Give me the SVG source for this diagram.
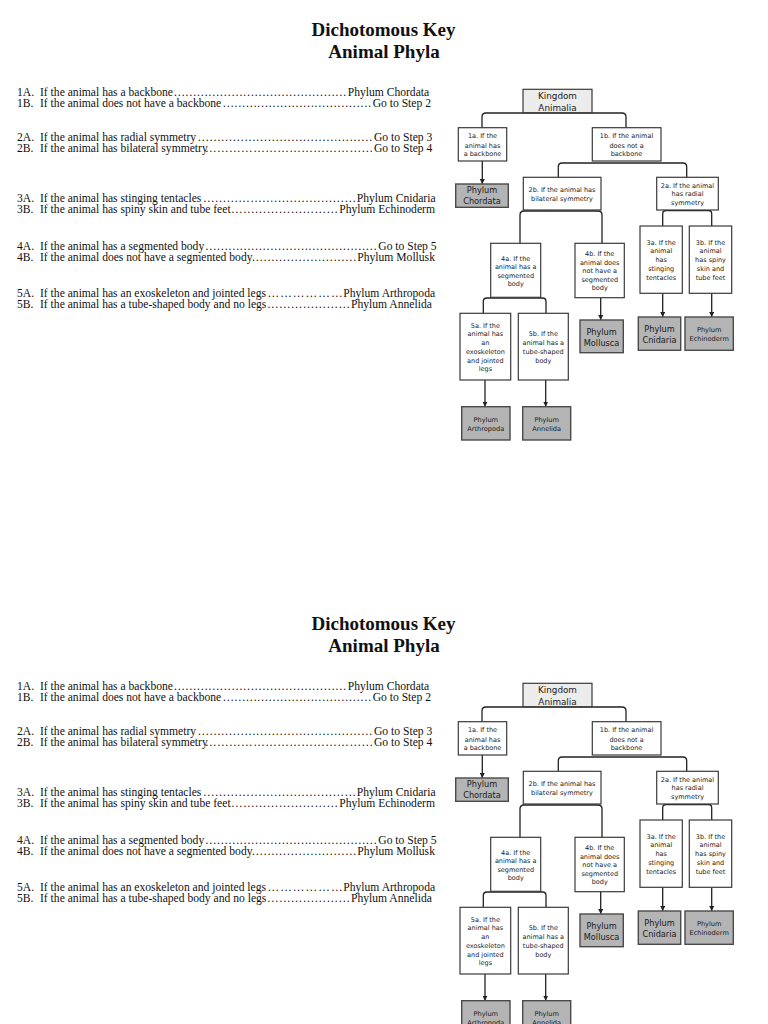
<svg xmlns="http://www.w3.org/2000/svg" width="768" height="1024" viewBox="0 0 768 1024">
<defs>
<marker id="ah" markerWidth="5" markerHeight="5" refX="5" refY="2.5" orient="auto" markerUnits="userSpaceOnUse"><path d="M0,0 L5,2.5 L0,5 z" fill="#222"/></marker>
</defs>
<style>
.title{font-family:"Liberation Serif","Times New Roman",serif;font-weight:bold;font-size:19px;fill:#111;text-anchor:middle}
.k{font-family:"Liberation Serif","Times New Roman",serif;font-size:11.6px;fill:#111}
.box{fill:#fff;stroke:#3a3a3a;stroke-width:1.2}
.kb{fill:#ececec;stroke:#3a3a3a;stroke-width:1.2}
.gb{fill:#b4b4b4;stroke:#4a4a4a;stroke-width:1.4}
.n{font-family:"DejaVu Sans","Noto Sans",sans-serif;font-size:6.5px;fill:#1a1a1a;text-anchor:middle}
.nk{font-size:8.8px}
.ng{font-size:8.2px}
.ns{font-size:6.6px}
.c{fill:none;stroke:#222;stroke-width:1.3}
.a{marker-end:url(#ah)}
</style>
<rect width="768" height="1024" fill="#fff"/>

<g id="copy1">
<g id="title1">
<text class="title" x="383.5" y="36">Dichotomous Key</text>
<text class="title" x="384" y="58">Animal Phyla</text>
</g>
<g id="key1">
<text class="k" y="95.5"><tspan x="17">1A.</tspan><tspan x="40">If the animal has a backbone</tspan><tspan x="173.5" textLength="173" lengthAdjust="spacing">&#8230;&#8230;&#8230;&#8230;&#8230;&#8230;&#8230;&#8230;&#8230;&#8230;&#8230;&#8230;&#8230;&#8230;&#8230;</tspan><tspan x="347.7">Phylum Chordata</tspan></text>
<text class="k" y="106.5"><tspan x="17">1B.</tspan><tspan x="40">If the animal does not have a backbone</tspan><tspan x="222.5" textLength="149" lengthAdjust="spacing">&#8230;&#8230;&#8230;&#8230;&#8230;&#8230;&#8230;&#8230;&#8230;&#8230;&#8230;&#8230;&#8230;</tspan><tspan x="372.7">Go to Step 2</tspan></text>
<text class="k" y="140.7"><tspan x="17">2A.</tspan><tspan x="40">If the animal has radial symmetry</tspan><tspan x="197.5" textLength="175" lengthAdjust="spacing">&#8230;&#8230;&#8230;&#8230;&#8230;&#8230;&#8230;&#8230;&#8230;&#8230;&#8230;&#8230;&#8230;&#8230;&#8230;</tspan><tspan x="374">Go to Step 3</tspan></text>
<text class="k" y="151.7"><tspan x="17">2B.</tspan><tspan x="40">If the animal has bilateral symmetry</tspan><tspan x="205" textLength="168" lengthAdjust="spacing">&#8230;&#8230;&#8230;&#8230;&#8230;&#8230;&#8230;&#8230;&#8230;&#8230;&#8230;&#8230;&#8230;&#8230;</tspan><tspan x="374">Go to Step 4</tspan></text>
<text class="k" y="202.3"><tspan x="17">3A.</tspan><tspan x="40">If the animal has stinging tentacles</tspan><tspan x="203" textLength="153" lengthAdjust="spacing">&#8230;&#8230;&#8230;&#8230;&#8230;&#8230;&#8230;&#8230;&#8230;&#8230;&#8230;&#8230;&#8230;</tspan><tspan x="356.7">Phylum Cnidaria</tspan></text>
<text class="k" y="213.3"><tspan x="17">3B.</tspan><tspan x="40">If the animal has spiny skin and tube feet</tspan><tspan x="231" textLength="107" lengthAdjust="spacing">&#8230;&#8230;&#8230;&#8230;&#8230;&#8230;&#8230;&#8230;&#8230;</tspan><tspan x="339.3">Phylum Echinoderm</tspan></text>
<text class="k" y="249.8"><tspan x="17">4A.</tspan><tspan x="40">If the animal has a segmented body</tspan><tspan x="205" textLength="172" lengthAdjust="spacing">&#8230;&#8230;&#8230;&#8230;&#8230;&#8230;&#8230;&#8230;&#8230;&#8230;&#8230;&#8230;&#8230;&#8230;&#8230;</tspan><tspan x="378.3">Go to Step 5</tspan></text>
<text class="k" y="260.8"><tspan x="17">4B.</tspan><tspan x="40">If the animal does not have a segmented body</tspan><tspan x="251.5" textLength="105" lengthAdjust="spacing">&#8230;&#8230;&#8230;&#8230;&#8230;&#8230;&#8230;&#8230;&#8230;</tspan><tspan x="357.3">Phylum Mollusk</tspan></text>
<text class="k" y="296.5"><tspan x="17">5A.</tspan><tspan x="40">If the animal has an exoskeleton and jointed legs</tspan><tspan x="267.5" textLength="75" lengthAdjust="spacing">&#8230;&#8230;&#8230;&#8230;&#8230;&#8230;</tspan><tspan x="343.3">Phylum Arthropoda</tspan></text>
<text class="k" y="307.5"><tspan x="17">5B.</tspan><tspan x="40">If the animal has a tube-shaped body and no legs</tspan><tspan x="267" textLength="83" lengthAdjust="spacing">&#8230;&#8230;&#8230;&#8230;&#8230;&#8230;&#8230;</tspan><tspan x="351">Phylum Annelida</tspan></text>
</g>
<g id="connectors1">
<path class="c" d="M482,128 V117 Q482,113 486,113 H622 Q626,113 626,117 V128"/>
<path class="c a" d="M482.3,161 V184"/>
<path class="c" d="M558.3,177.3 V167 Q558.3,163 562,163 H683 Q686.7,163 686.7,167 V177.3"/>
<path class="c" d="M520,243.3 V215 Q520,211 524,211 H598 Q602,211 602,215 V243.3"/>
<path class="c" d="M662.7,226 V214 Q662.7,210.5 666,210.5 H708.5 Q711.7,210.5 711.7,214 V226"/>
<path class="c" d="M483.3,313.3 V301.5 Q483.3,298 487,298 H542.5 Q546,298 546,301.5 V313.3"/>
<path class="c a" d="M600.7,297.7 V320"/>
<path class="c a" d="M662.7,293.3 V317"/>
<path class="c a" d="M711.7,293.3 V317"/>
<path class="c a" d="M485,380 V406.7"/>
<path class="c a" d="M545.7,380 V406.7"/>
</g>
<g id="kingdom1"><rect class="kb" x="523" y="89.3" width="69" height="23.4"/><text class="n nk"><tspan x="557.5" y="98.9">Kingdom</tspan><tspan x="557.5" y="110.6">Animalia</tspan></text></g>
<g id="n1a1"><rect class="box" x="458.3" y="127.7" width="48.4" height="33.3"/><text class="n"><tspan x="482.5" y="138.2">1a. If the</tspan><tspan x="482.5" y="147.5">animal has</tspan><tspan x="482.5" y="155.5">a backbone</tspan></text></g>
<g id="n1b1"><rect class="box" x="592.3" y="127.7" width="68.7" height="33.3"/><text class="n"><tspan x="626.5" y="138.2">1b. If the animal</tspan><tspan x="626.5" y="147.5">does not  a</tspan><tspan x="626.5" y="155.5">backbone</tspan></text></g>
<g id="chordata1"><rect class="gb" x="455.7" y="184" width="52.6" height="23.3"/><text class="n ng"><tspan x="482" y="193">Phylum</tspan><tspan x="482" y="203.7">Chordata</tspan></text></g>
<g id="n2b1"><rect class="box" x="523.3" y="177.3" width="77.7" height="32.7"/><text class="n"><tspan x="562" y="191.5">2b. If the animal has</tspan><tspan x="562" y="200.5">bilateral symmetry</tspan></text></g>
<g id="n2a1"><rect class="box" x="656.7" y="177.3" width="61.6" height="32.7"/><text class="n"><tspan x="687.5" y="187.9">2a. If the animal</tspan><tspan x="687.5" y="196.2">has radial</tspan><tspan x="687.5" y="204.9">symmetry</tspan></text></g>
<g id="n4a1"><rect class="box" x="490.7" y="243.3" width="50" height="54"/><text class="n"><tspan x="515.7" y="260.5">4a. If the</tspan><tspan x="515.7" y="268.9">animal has a</tspan><tspan x="515.7" y="277.5">segmented</tspan><tspan x="515.7" y="286.2">body</tspan></text></g>
<g id="n4b1"><rect class="box" x="575" y="243.3" width="49.3" height="54.4"/><text class="n"><tspan x="599.7" y="255.5">4b. If the</tspan><tspan x="599.7" y="264.5">animal does</tspan><tspan x="599.7" y="272.9">not have  a</tspan><tspan x="599.7" y="281.9">segmented</tspan><tspan x="599.7" y="289.9">body</tspan></text></g>
<g id="n3a1"><rect class="box" x="640" y="226" width="42.3" height="67.3"/><text class="n"><tspan x="661.2" y="244.9">3a. If the</tspan><tspan x="661.2" y="253.2">animal</tspan><tspan x="661.2" y="262.2">has</tspan><tspan x="661.2" y="270.9">stinging</tspan><tspan x="661.2" y="279.9">tentacles</tspan></text></g>
<g id="n3b1"><rect class="box" x="689.3" y="226" width="42.4" height="67.3"/><text class="n"><tspan x="710.5" y="244.9">3b. If the</tspan><tspan x="710.5" y="253.2">animal</tspan><tspan x="710.5" y="262.2">has spiny</tspan><tspan x="710.5" y="270.9">skin and</tspan><tspan x="710.5" y="279.9">tube feet</tspan></text></g>
<g id="n5a1"><rect class="box" x="460" y="313.3" width="50.7" height="66.7"/><text class="n"><tspan x="485.4" y="327.9">5a. If the</tspan><tspan x="485.4" y="336.2">animal has</tspan><tspan x="485.4" y="345.2">an</tspan><tspan x="485.4" y="353.9">exoskeleton</tspan><tspan x="485.4" y="362.9">and jointed</tspan><tspan x="485.4" y="371.2">legs</tspan></text></g>
<g id="n5b1"><rect class="box" x="518.3" y="313.3" width="50" height="66.7"/><text class="n"><tspan x="543.3" y="336.2">5b. If the</tspan><tspan x="543.3" y="345.2">animal has a</tspan><tspan x="543.3" y="353.9">tube-shaped</tspan><tspan x="543.3" y="362.9">body</tspan></text></g>
<g id="mollusca1"><rect class="gb" x="580" y="320" width="43.3" height="32.7"/><text class="n ng"><tspan x="601.6" y="335.3">Phylum</tspan><tspan x="601.6" y="345.7">Mollusca</tspan></text></g>
<g id="cnidaria1"><rect class="gb" x="638.3" y="317" width="42.4" height="33.3"/><text class="n ng"><tspan x="659.5" y="332.3">Phylum</tspan><tspan x="659.5" y="342.7">Cnidaria</tspan></text></g>
<g id="echinoderm1"><rect class="gb" x="685" y="317" width="48.3" height="33.3"/><text class="n ns"><tspan x="709.2" y="332.2">Phylum</tspan><tspan x="709.2" y="340.5">Echinoderm</tspan></text></g>
<g id="arthropoda1"><rect class="gb" x="461.7" y="406.7" width="48.3" height="33.3"/><text class="n ns"><tspan x="485.8" y="421.5">Phylum</tspan><tspan x="485.8" y="430.5">Arthropoda</tspan></text></g>
<g id="annelida1"><rect class="gb" x="522.7" y="406.7" width="48" height="33.3"/><text class="n ns"><tspan x="546.7" y="421.5">Phylum</tspan><tspan x="546.7" y="430.5">Annelida</tspan></text></g>
</g>

<g id="copy2" transform="translate(0,594)">
<g id="title2">
<text class="title" x="383.5" y="36">Dichotomous Key</text>
<text class="title" x="384" y="58">Animal Phyla</text>
</g>
<g id="key2">
<text class="k" y="95.5"><tspan x="17">1A.</tspan><tspan x="40">If the animal has a backbone</tspan><tspan x="173.5" textLength="173" lengthAdjust="spacing">&#8230;&#8230;&#8230;&#8230;&#8230;&#8230;&#8230;&#8230;&#8230;&#8230;&#8230;&#8230;&#8230;&#8230;&#8230;</tspan><tspan x="347.7">Phylum Chordata</tspan></text>
<text class="k" y="106.5"><tspan x="17">1B.</tspan><tspan x="40">If the animal does not have a backbone</tspan><tspan x="222.5" textLength="149" lengthAdjust="spacing">&#8230;&#8230;&#8230;&#8230;&#8230;&#8230;&#8230;&#8230;&#8230;&#8230;&#8230;&#8230;&#8230;</tspan><tspan x="372.7">Go to Step 2</tspan></text>
<text class="k" y="140.7"><tspan x="17">2A.</tspan><tspan x="40">If the animal has radial symmetry</tspan><tspan x="197.5" textLength="175" lengthAdjust="spacing">&#8230;&#8230;&#8230;&#8230;&#8230;&#8230;&#8230;&#8230;&#8230;&#8230;&#8230;&#8230;&#8230;&#8230;&#8230;</tspan><tspan x="374">Go to Step 3</tspan></text>
<text class="k" y="151.7"><tspan x="17">2B.</tspan><tspan x="40">If the animal has bilateral symmetry</tspan><tspan x="205" textLength="168" lengthAdjust="spacing">&#8230;&#8230;&#8230;&#8230;&#8230;&#8230;&#8230;&#8230;&#8230;&#8230;&#8230;&#8230;&#8230;&#8230;</tspan><tspan x="374">Go to Step 4</tspan></text>
<text class="k" y="202.3"><tspan x="17">3A.</tspan><tspan x="40">If the animal has stinging tentacles</tspan><tspan x="203" textLength="153" lengthAdjust="spacing">&#8230;&#8230;&#8230;&#8230;&#8230;&#8230;&#8230;&#8230;&#8230;&#8230;&#8230;&#8230;&#8230;</tspan><tspan x="356.7">Phylum Cnidaria</tspan></text>
<text class="k" y="213.3"><tspan x="17">3B.</tspan><tspan x="40">If the animal has spiny skin and tube feet</tspan><tspan x="231" textLength="107" lengthAdjust="spacing">&#8230;&#8230;&#8230;&#8230;&#8230;&#8230;&#8230;&#8230;&#8230;</tspan><tspan x="339.3">Phylum Echinoderm</tspan></text>
<text class="k" y="249.8"><tspan x="17">4A.</tspan><tspan x="40">If the animal has a segmented body</tspan><tspan x="205" textLength="172" lengthAdjust="spacing">&#8230;&#8230;&#8230;&#8230;&#8230;&#8230;&#8230;&#8230;&#8230;&#8230;&#8230;&#8230;&#8230;&#8230;&#8230;</tspan><tspan x="378.3">Go to Step 5</tspan></text>
<text class="k" y="260.8"><tspan x="17">4B.</tspan><tspan x="40">If the animal does not have a segmented body</tspan><tspan x="251.5" textLength="105" lengthAdjust="spacing">&#8230;&#8230;&#8230;&#8230;&#8230;&#8230;&#8230;&#8230;&#8230;</tspan><tspan x="357.3">Phylum Mollusk</tspan></text>
<text class="k" y="296.5"><tspan x="17">5A.</tspan><tspan x="40">If the animal has an exoskeleton and jointed legs</tspan><tspan x="267.5" textLength="75" lengthAdjust="spacing">&#8230;&#8230;&#8230;&#8230;&#8230;&#8230;</tspan><tspan x="343.3">Phylum Arthropoda</tspan></text>
<text class="k" y="307.5"><tspan x="17">5B.</tspan><tspan x="40">If the animal has a tube-shaped body and no legs</tspan><tspan x="267" textLength="83" lengthAdjust="spacing">&#8230;&#8230;&#8230;&#8230;&#8230;&#8230;&#8230;</tspan><tspan x="351">Phylum Annelida</tspan></text>
</g>
<g id="connectors2">
<path class="c" d="M482,128 V117 Q482,113 486,113 H622 Q626,113 626,117 V128"/>
<path class="c a" d="M482.3,161 V184"/>
<path class="c" d="M558.3,177.3 V167 Q558.3,163 562,163 H683 Q686.7,163 686.7,167 V177.3"/>
<path class="c" d="M520,243.3 V215 Q520,211 524,211 H598 Q602,211 602,215 V243.3"/>
<path class="c" d="M662.7,226 V214 Q662.7,210.5 666,210.5 H708.5 Q711.7,210.5 711.7,214 V226"/>
<path class="c" d="M483.3,313.3 V301.5 Q483.3,298 487,298 H542.5 Q546,298 546,301.5 V313.3"/>
<path class="c a" d="M600.7,297.7 V320"/>
<path class="c a" d="M662.7,293.3 V317"/>
<path class="c a" d="M711.7,293.3 V317"/>
<path class="c a" d="M485,380 V406.7"/>
<path class="c a" d="M545.7,380 V406.7"/>
</g>
<g id="kingdom2"><rect class="kb" x="523" y="89.3" width="69" height="23.4"/><text class="n nk"><tspan x="557.5" y="98.9">Kingdom</tspan><tspan x="557.5" y="110.6">Animalia</tspan></text></g>
<g id="n1a2"><rect class="box" x="458.3" y="127.7" width="48.4" height="33.3"/><text class="n"><tspan x="482.5" y="138.2">1a. If the</tspan><tspan x="482.5" y="147.5">animal has</tspan><tspan x="482.5" y="155.5">a backbone</tspan></text></g>
<g id="n1b2"><rect class="box" x="592.3" y="127.7" width="68.7" height="33.3"/><text class="n"><tspan x="626.5" y="138.2">1b. If the animal</tspan><tspan x="626.5" y="147.5">does not  a</tspan><tspan x="626.5" y="155.5">backbone</tspan></text></g>
<g id="chordata2"><rect class="gb" x="455.7" y="184" width="52.6" height="23.3"/><text class="n ng"><tspan x="482" y="193">Phylum</tspan><tspan x="482" y="203.7">Chordata</tspan></text></g>
<g id="n2b2"><rect class="box" x="523.3" y="177.3" width="77.7" height="32.7"/><text class="n"><tspan x="562" y="191.5">2b. If the animal has</tspan><tspan x="562" y="200.5">bilateral symmetry</tspan></text></g>
<g id="n2a2"><rect class="box" x="656.7" y="177.3" width="61.6" height="32.7"/><text class="n"><tspan x="687.5" y="187.9">2a. If the animal</tspan><tspan x="687.5" y="196.2">has radial</tspan><tspan x="687.5" y="204.9">symmetry</tspan></text></g>
<g id="n4a2"><rect class="box" x="490.7" y="243.3" width="50" height="54"/><text class="n"><tspan x="515.7" y="260.5">4a. If the</tspan><tspan x="515.7" y="268.9">animal has a</tspan><tspan x="515.7" y="277.5">segmented</tspan><tspan x="515.7" y="286.2">body</tspan></text></g>
<g id="n4b2"><rect class="box" x="575" y="243.3" width="49.3" height="54.4"/><text class="n"><tspan x="599.7" y="255.5">4b. If the</tspan><tspan x="599.7" y="264.5">animal does</tspan><tspan x="599.7" y="272.9">not have  a</tspan><tspan x="599.7" y="281.9">segmented</tspan><tspan x="599.7" y="289.9">body</tspan></text></g>
<g id="n3a2"><rect class="box" x="640" y="226" width="42.3" height="67.3"/><text class="n"><tspan x="661.2" y="244.9">3a. If the</tspan><tspan x="661.2" y="253.2">animal</tspan><tspan x="661.2" y="262.2">has</tspan><tspan x="661.2" y="270.9">stinging</tspan><tspan x="661.2" y="279.9">tentacles</tspan></text></g>
<g id="n3b2"><rect class="box" x="689.3" y="226" width="42.4" height="67.3"/><text class="n"><tspan x="710.5" y="244.9">3b. If the</tspan><tspan x="710.5" y="253.2">animal</tspan><tspan x="710.5" y="262.2">has spiny</tspan><tspan x="710.5" y="270.9">skin and</tspan><tspan x="710.5" y="279.9">tube feet</tspan></text></g>
<g id="n5a2"><rect class="box" x="460" y="313.3" width="50.7" height="66.7"/><text class="n"><tspan x="485.4" y="327.9">5a. If the</tspan><tspan x="485.4" y="336.2">animal has</tspan><tspan x="485.4" y="345.2">an</tspan><tspan x="485.4" y="353.9">exoskeleton</tspan><tspan x="485.4" y="362.9">and jointed</tspan><tspan x="485.4" y="371.2">legs</tspan></text></g>
<g id="n5b2"><rect class="box" x="518.3" y="313.3" width="50" height="66.7"/><text class="n"><tspan x="543.3" y="336.2">5b. If the</tspan><tspan x="543.3" y="345.2">animal has a</tspan><tspan x="543.3" y="353.9">tube-shaped</tspan><tspan x="543.3" y="362.9">body</tspan></text></g>
<g id="mollusca2"><rect class="gb" x="580" y="320" width="43.3" height="32.7"/><text class="n ng"><tspan x="601.6" y="335.3">Phylum</tspan><tspan x="601.6" y="345.7">Mollusca</tspan></text></g>
<g id="cnidaria2"><rect class="gb" x="638.3" y="317" width="42.4" height="33.3"/><text class="n ng"><tspan x="659.5" y="332.3">Phylum</tspan><tspan x="659.5" y="342.7">Cnidaria</tspan></text></g>
<g id="echinoderm2"><rect class="gb" x="685" y="317" width="48.3" height="33.3"/><text class="n ns"><tspan x="709.2" y="332.2">Phylum</tspan><tspan x="709.2" y="340.5">Echinoderm</tspan></text></g>
<g id="arthropoda2"><rect class="gb" x="461.7" y="406.7" width="48.3" height="33.3"/><text class="n ns"><tspan x="485.8" y="421.5">Phylum</tspan><tspan x="485.8" y="430.5">Arthropoda</tspan></text></g>
<g id="annelida2"><rect class="gb" x="522.7" y="406.7" width="48" height="33.3"/><text class="n ns"><tspan x="546.7" y="421.5">Phylum</tspan><tspan x="546.7" y="430.5">Annelida</tspan></text></g>
</g>
</svg>
